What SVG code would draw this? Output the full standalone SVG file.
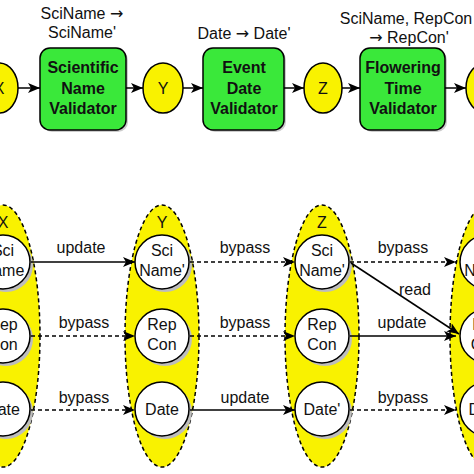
<svg xmlns="http://www.w3.org/2000/svg" width="474" height="474" viewBox="0 0 474 474">
<defs>
<marker id="ah" markerUnits="userSpaceOnUse" markerWidth="13" markerHeight="10" refX="12" refY="5" orient="auto">
<path d="M0,0 L12,5 L0,10 L3,5 z" fill="#000"/>
</marker>
<style>
text{font-family:"Liberation Sans",Arial,sans-serif;font-size:16px;fill:#111;text-anchor:middle}
.b{font-weight:bold}
.ar{font-family:"DejaVu Sans",sans-serif}
.yc{fill:#f9f200;stroke:#000;stroke-width:1.5}
.box{fill:#3ae83a;stroke:#000;stroke-width:1.5}
.shb{fill:#9a9a9a;opacity:0.5}
.ell{fill:#f9f200;stroke:#000;stroke-width:1.5;stroke-dasharray:4 3}
.c{fill:#fff;stroke:#000;stroke-width:1.5}
.sh{fill:#bdbdbd}
.ln{stroke:#000;stroke-width:1.5;fill:none;marker-end:url(#ah)}
.d{stroke-dasharray:4 3}
</style>
</defs>
<rect width="474" height="474" fill="#fff"/>

<!-- top row nodes -->
<g id="tX"><ellipse class="yc" cx="-1" cy="88" rx="19" ry="25"/><text x="-1" y="94">X</text></g>
<g id="tSNV"><rect class="shb" x="42" y="50" width="86" height="82" rx="10"/><rect class="box" x="40" y="48" width="86" height="82" rx="10"/>
<text class="b" x="83" y="73">Scientific</text><text class="b" x="83" y="94">Name</text><text class="b" x="83" y="114">Validator</text></g>
<g id="tY"><ellipse class="yc" cx="163" cy="88" rx="20" ry="25"/><text x="163" y="94">Y</text></g>
<g id="tEDV"><rect class="shb" x="205" y="50" width="81" height="82" rx="10"/><rect class="box" x="203" y="48" width="81" height="82" rx="10"/>
<text class="b" x="244" y="73">Event</text><text class="b" x="244" y="94">Date</text><text class="b" x="244" y="114">Validator</text></g>
<g id="tZ"><ellipse class="yc" cx="323" cy="88" rx="19" ry="25"/><text x="323" y="94">Z</text></g>
<g id="tFTV"><rect class="shb" x="362" y="50" width="85" height="82" rx="10"/><rect class="box" x="360" y="48" width="85" height="82" rx="10"/>
<text class="b" x="403" y="73">Flowering</text><text class="b" x="403" y="94">Time</text><text class="b" x="403" y="114">Validator</text></g>
<g id="tW"><ellipse class="yc" cx="486" cy="88" rx="20" ry="25"/></g>

<g id="tlabels">
<text x="82" y="19">SciName <tspan class="ar">→</tspan></text><text x="82" y="38">SciName'</text>
<text x="244" y="39">Date <tspan class="ar">→</tspan> Date'</text>
<text x="406" y="24">SciName, RepCon</text><text x="409" y="43"><tspan class="ar">→</tspan> RepCon'</text>
</g>

<!-- bottom columns -->
<g id="bX"><ellipse class="ell" cx="3" cy="336" rx="37" ry="131"/><text x="3" y="228">X</text>
<circle class="sh" cx="6" cy="265" r="27"/><circle class="c" cx="3" cy="262" r="27"/><text x="3" y="256">Sci</text><text x="3" y="276">Name</text>
<circle class="sh" cx="6" cy="339" r="27"/><circle class="c" cx="3" cy="336" r="27"/><text x="3" y="330">Rep</text><text x="3" y="350">Con</text>
<circle class="sh" cx="6" cy="412" r="27"/><circle class="c" cx="3" cy="409" r="27"/><text x="3" y="415">Date</text></g>

<g id="bY"><ellipse class="ell" cx="162" cy="336" rx="37" ry="131"/><text x="162" y="228">Y</text>
<circle class="sh" cx="165" cy="265" r="27"/><circle class="c" cx="162" cy="262" r="27"/><text x="162" y="256">Sci</text><text x="162" y="276">Name'</text>
<circle class="sh" cx="165" cy="339" r="27"/><circle class="c" cx="162" cy="336" r="27"/><text x="162" y="330">Rep</text><text x="162" y="350">Con</text>
<circle class="sh" cx="165" cy="412" r="27"/><circle class="c" cx="162" cy="409" r="27"/><text x="162" y="415">Date</text></g>

<g id="bZ"><ellipse class="ell" cx="322" cy="336" rx="37" ry="131"/><text x="322" y="228">Z</text>
<circle class="sh" cx="325" cy="265" r="27"/><circle class="c" cx="322" cy="262" r="27"/><text x="322" y="256">Sci</text><text x="322" y="276">Name'</text>
<circle class="sh" cx="325" cy="339" r="27"/><circle class="c" cx="322" cy="336" r="27"/><text x="322" y="330">Rep</text><text x="322" y="350">Con</text>
<circle class="sh" cx="325" cy="412" r="27"/><circle class="c" cx="322" cy="409" r="27"/><text x="322" y="415">Date'</text></g>

<g id="bW"><ellipse class="ell" cx="487" cy="336" rx="37" ry="131"/>
<circle class="sh" cx="490" cy="265" r="27"/><circle class="c" cx="487" cy="262" r="27"/><text x="487" y="256">Sci</text><text x="487" y="276">Name'</text>
<circle class="sh" cx="490" cy="339" r="27"/><circle class="c" cx="487" cy="336" r="27"/><text x="487" y="330">Rep</text><text x="487" y="350">Con'</text>
<circle class="sh" cx="490" cy="412" r="27"/><circle class="c" cx="487" cy="409" r="27"/><text x="487" y="415">Date'</text></g>

<!-- connectors -->
<g id="connectors">
<line class="ln" x1="18" y1="88" x2="40" y2="88"/>
<line class="ln" x1="126" y1="88" x2="143" y2="88"/>
<line class="ln" x1="183" y1="88" x2="203" y2="88"/>
<line class="ln" x1="284" y1="88" x2="304" y2="88"/>
<line class="ln" x1="342" y1="88" x2="360" y2="88"/>
<line class="ln" x1="445" y1="88" x2="466" y2="88"/>

<line class="ln" x1="31" y1="262" x2="135" y2="262"/>
<line class="ln d" x1="31" y1="336" x2="135" y2="336"/>
<line class="ln d" x1="31" y1="410" x2="135" y2="410"/>
<line class="ln d" x1="190" y1="262" x2="295" y2="262"/>
<line class="ln d" x1="190" y1="336" x2="295" y2="336"/>
<line class="ln" x1="190" y1="410" x2="295" y2="410"/>
<line class="ln d" x1="350" y1="262" x2="456" y2="262"/>
<line class="ln" x1="351" y1="263" x2="459" y2="334"/>
<line class="ln" x1="350" y1="336" x2="456" y2="336"/>
<line class="ln d" x1="350" y1="410" x2="456" y2="410"/>

<text x="81" y="253">update</text>
<text x="84" y="328">bypass</text>
<text x="84" y="403">bypass</text>
<text x="245" y="253">bypass</text>
<text x="245" y="328">bypass</text>
<text x="245" y="403">update</text>
<text x="403" y="253">bypass</text>
<text x="415" y="295">read</text>
<text x="402" y="328">update</text>
<text x="403" y="403">bypass</text>
</g>
</svg>
